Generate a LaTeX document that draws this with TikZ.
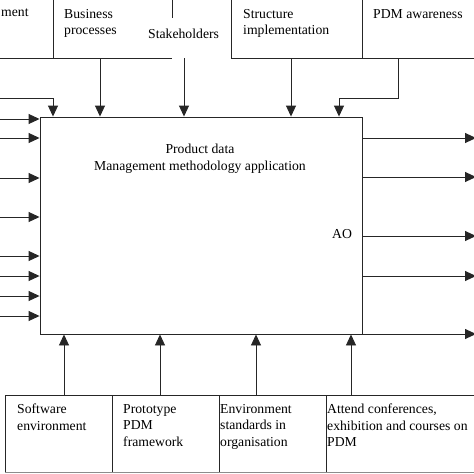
\documentclass[tikz,border=0pt]{standalone}
\usepackage{fontspec}
\setmainfont{Liberation Serif}
\usetikzlibrary{arrows.meta}
\begin{document}
\begin{tikzpicture}[x=1pt,y=-1pt,
  line/.style={line width=0.9pt, draw=black!85},
  arr/.style={line width=0.9pt, draw=black!85, -{Triangle[length=11pt,width=10pt]}},
  lbl/.style={anchor=north west, inner sep=0pt, align=left, font=\fontsize{13.7}{16.5}\selectfont},
  ctr/.style={inner sep=0pt, align=center, font=\fontsize{13.7}{16.8}\selectfont},
  mainbox/.style={draw=black!85, line width=0.9pt, minimum width=322pt, minimum height=217pt, inner sep=0pt}]
\useasboundingbox (0,0) rectangle (474,474);
\fill[white] (0,0) rectangle (474,474);

% main box
\node[mainbox] (main) at (201,225.5) {};
\node[ctr] (title) at (200,158.5) {Product data\\Management methodology application};
\node[ctr] (ao) at (342,234) {AO};

% top frame
\draw[line] (0,58) -- (172,58);
\draw[line] (231,58) -- (474,58);
\draw[line] (53,0) -- (53,58);
\draw[line] (172,0) -- (172,18);
\draw[line] (231,0) -- (231,58);
\draw[line] (362,0) -- (362,58);

% top labels
\node[lbl] (t1) at (1,9) {ment};
\node[lbl] (t2) at (64,9) {Business\\processes};
\node[lbl] (t3) at (148,29) {Stakeholders};
\node[lbl] (t4) at (243,9) {Structure\\implementation};
\node[lbl] (t5) at (373,9) {PDM awareness};

% top controls
\coordinate (c1) at (0,98);
\coordinate (c2) at (100,58);
\coordinate (c3) at (184,58);
\coordinate (c4) at (291,58);
\coordinate (c5) at (398,58);
\draw[arr] (c1) -- (53,98) -- (main.north -| 53,0);
\draw[arr] (c2) -- (main.north -| c2);
\draw[arr] (c3) -- (main.north -| c3);
\draw[arr] (c4) -- (main.north -| c4);
\draw[arr] (c5) -- (398,98) -- (339,98) -- (main.north -| 339,0);

% left inputs
\foreach \y [count=\i] in {119,138,178,217,256,276,296,316} {
  \coordinate (in\i) at (0,\y);
  \draw[arr] (in\i) -- (main.west |- in\i);
}

% right outputs
\foreach \y [count=\i] in {138,177,236,276,334} {
  \coordinate (out\i) at (476,\y);
  \draw[arr] (main.east |- out\i) -- (out\i);
}

% bottom frame
\draw[line] (5,395) -- (474,395);
\draw[line, draw=black!45] (5,472) -- (474,472);
\foreach \x in {5,112,219,326} {
  \draw[line] (\x,395) -- (\x,472);
}

% bottom labels
\node[lbl] (b1) at (17,404) {Software\\environment};
\node[lbl] (b2) at (123,404) {Prototype\\PDM\\framework};
\node[lbl] (b3) at (220,404) {Environment\\standards in\\organisation};
\node[lbl] (b4) at (327,404) {Attend conferences,\\exhibition and courses on\\PDM};

% bottom mechanisms
\foreach \x [count=\i] in {64,160,256,351} {
  \coordinate (m\i) at (\x,395);
  \draw[arr] (m\i) -- (main.south -| m\i);
}
\end{tikzpicture}
\end{document}
